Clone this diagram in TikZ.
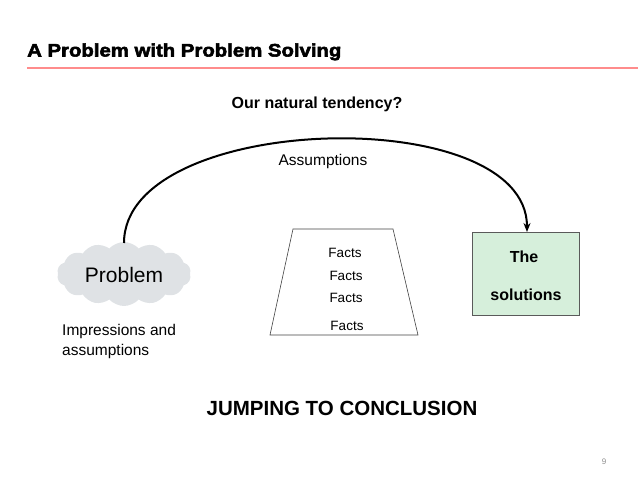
\documentclass[tikz,border=0pt]{standalone}
\usepackage{fontspec}
\setmainfont{Liberation Sans}
\newfontfamily\titlefont{Liberation Sans Bold}[FakeBold=3,FakeStretch=1.13]
\usetikzlibrary{shapes.symbols,arrows.meta}
\definecolor{redline}{HTML}{FF8C8C}
\definecolor{cloudgray}{HTML}{DFE2E5}
\definecolor{boxgreen}{HTML}{D6EFDB}
\definecolor{boxedge}{HTML}{5A5A5A}
\tikzset{
  txt/.style={inner sep=0pt, font=\fontsize{15.5}{18}\selectfont},
  btxt/.style={inner sep=0pt, font=\fontsize{16}{19}\selectfont\bfseries},
  fact/.style={inner sep=0pt, anchor=base, font=\fontsize{13.5}{16}\selectfont},
  jump/.style={line width=2pt, -{Stealth[length=9pt,width=7pt]}}
}
\begin{document}
\begin{tikzpicture}[x=1pt,y=-1pt]
\useasboundingbox (0,0) rectangle (638,478);
% title
\node[inner sep=0pt, anchor=base west, font=\titlefont\fontsize{18}{20}\selectfont] (title) at (27,56.5) {A Problem with Problem Solving};
\draw[redline, line width=1.6pt] (27,68) -- (638,68);
\node[btxt, anchor=base] (q) at (317,109) {Our natural tendency?};
% cloud
\node[cloud, cloud puffs=14, cloud puff arc=95, aspect=2.1, fill=cloudgray, draw=none,
      minimum width=134pt, minimum height=64pt, inner sep=0pt] (cloud) at (124,274) {};
\node[anchor=base, inner sep=0pt, font=\fontsize{21}{24}\selectfont] (prob) at (124,283) {Problem};
\node[txt, anchor=base west] (imp1) at (62,336) {Impressions and};
\node[txt, anchor=base west] (imp2) at (62,356) {assumptions};
% facts trapezoid
\draw[black!75, line width=0.6pt] (293,229) -- (393,229) -- (418,335) -- (270,335) -- cycle;
\node[fact] (f1) at (345,258) {Facts};
\node[fact] (f2) at (346,281) {Facts};
\node[fact] (f3) at (346,303) {Facts};
\node[fact] (f4) at (347,331) {Facts};
% solution box
\node[draw=boxedge, fill=boxgreen, line width=0.7pt, minimum width=107pt, minimum height=83pt, inner sep=0pt] (sol) at (526,273.5) {};
\node[btxt, anchor=base] (the) at (524,263) {The};
\node[btxt, anchor=base] (solu) at (526,301) {solutions};
% arc
\coordinate (start) at (124,243);
\coordinate (end) at (527,232);
\draw[jump] (start) .. controls (124,112) and (527,101) .. (end);
\node[txt, anchor=base] (ass) at (323,166) {Assumptions};
% bottom
\node[inner sep=0pt, anchor=base, font=\fontsize{20.5}{24}\selectfont\bfseries] (jtc) at (342,416) {JUMPING TO CONCLUSION};
\node[inner sep=0pt, anchor=base, text=black!45, font=\fontsize{8}{9}\selectfont] (pg) at (604,465) {9};
\end{tikzpicture}
\end{document}
